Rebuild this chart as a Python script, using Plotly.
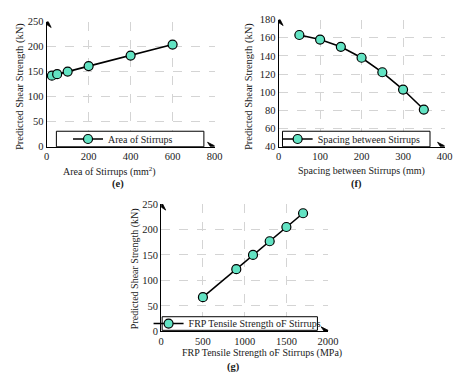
import plotly.graph_objects as go

# ---- data ----
area_x = [25, 50, 100, 200, 400, 600]
area_y = [142, 145, 150, 161, 182, 204]

spacing_x = [50, 100, 150, 200, 250, 300, 350]
spacing_y = [163, 158, 150, 138, 122, 103, 81]

frp_x = [500, 900, 1100, 1300, 1500, 1700]
frp_y = [67, 122, 150, 177, 205, 232]

W, H = 474, 381
FONT = "Liberation Serif"
MARK = "#62e3c3"
TXT = "#1a1a1a"

def px(x):
    return x / W

def py(y):
    return 1 - y / H

fig = go.Figure()

def add_series(xs, ys, name, xa, ya, leg):
    fig.add_trace(go.Scatter(
        x=xs, y=ys, name=name, mode="lines+markers",
        xaxis=xa, yaxis=ya, legend=leg,
        line=dict(color="black", width=1.6),
        marker=dict(symbol="circle", size=9, color=MARK,
                    line=dict(color="black", width=1.2)),
        showlegend=True,
    ))

add_series(area_x, area_y, "Area of Stirrups", "x", "y", "legend")
add_series(spacing_x, spacing_y, "Spacing between Stirrups", "x2", "y2", "legend2")
add_series(frp_x, frp_y, "FRP Tensile Strength oF Stirrups", "x3", "y3", "legend3")

axis_common = dict(
    showgrid=True, gridcolor="#d4d4d4", griddash="dash", gridwidth=1,
    showline=True, linecolor="black", linewidth=1.2,
    zeroline=False, ticks="", tickfont=dict(family=FONT, size=10.5, color=TXT),
    fixedrange=True,
)

dom = {
    "e": dict(x=(45, 218), y=(17, 146)),
    "f": dict(x=(284, 455), y=(15, 146)),
    "g": dict(x=(163, 335), y=(205, 336)),
}

def xdom(k):
    a, b = dom[k]["x"]
    return [px(a), px(b)]

def ydom(k):
    a, b = dom[k]["y"]
    return [py(b), py(a)]

fig.update_layout(
    xaxis=dict(axis_common, domain=xdom("e"), anchor="y", range=[0, 800], dtick=200),
    yaxis=dict(axis_common, domain=ydom("e"), anchor="x", range=[0, 250], dtick=50),
    xaxis2=dict(axis_common, domain=xdom("f"), anchor="y2", range=[0, 400], dtick=100),
    yaxis2=dict(axis_common, domain=ydom("f"), anchor="x2", range=[40, 180], dtick=20),
    xaxis3=dict(axis_common, domain=xdom("g"), anchor="y3", range=[0, 2000], dtick=500),
    yaxis3=dict(axis_common, domain=ydom("g"), anchor="x3", range=[0, 250], dtick=50),
)

titles = [
    ("Area of Stirrups (mm<sup>2</sup>)", 110, 171, 0, 10),
    ("Predicted Shear Strength (kN)", 17, 84, -90, 10.5),
    ("Spacing between Stirrups (mm)", 369, 171, 0, 10),
    ("Predicted Shear Strength (kN)", 253, 84, -90, 10.5),
    ("FRP Tensile Strength oF Stirrups (MPa)", 267, 358, 0, 10),
    ("Predicted Shear Strength (kN)", 136, 271, -90, 10),
]
for txt, x, y, ang, sz in titles:
    fig.add_annotation(xref="paper", yref="paper", x=px(x), y=py(y), text=txt, textangle=ang,
                       showarrow=False, font=dict(family=FONT, size=sz, color=TXT),
                       xanchor="center", yanchor="middle")

boxes = [(55, 207, 130, 146), (288, 440, 130, 146), (164, 324, 321, 335)]
for x0, x1, y0, y1 in boxes:
    fig.add_shape(type="rect", xref="paper", yref="paper",
                  x0=px(x0), x1=px(x1), y0=py(y1), y1=py(y0),
                  line=dict(color="black", width=1), fillcolor="white", layer="above")

leg_common = dict(bgcolor="rgba(0,0,0,0)", borderwidth=0,
                  font=dict(family=FONT, size=10, color=TXT),
                  xanchor="left", yanchor="middle", itemclick=False, itemdoubleclick=False,
                  tracegroupgap=0)
fig.update_layout(
    legend=dict(leg_common, x=px(67), y=py(138)),
    legend2=dict(leg_common, x=px(283), y=py(138)),
    legend3=dict(leg_common, x=px(150), y=py(328)),
)

ends = [("x", "y", 800, 0, 250), ("x2", "y2", 400, 40, 180), ("x3", "y3", 2000, 0, 250)]
for xa, ya, xmax, ymin, ymax in ends:
    fig.add_shape(type="path", xref=xa, yref=ya, xsizemode="pixel", ysizemode="pixel",
                  xanchor=xmax, yanchor=ymin,
                  path="M2,0 L-7,4.5 L-4,0 L-7,-4.5 Z",
                  fillcolor="black", line=dict(color="black", width=0.8), layer="above")
    fig.add_shape(type="path", xref=xa, yref=ya, xsizemode="pixel", ysizemode="pixel",
                  xanchor=0, yanchor=ymax,
                  path="M0,3 L4.5,-6 L0,-3 L-4.5,-6 Z",
                  fillcolor="black", line=dict(color="black", width=0.8), layer="above")

for txt, x, y in [("(e)", 118, 184), ("(f)", 364, 184), ("(g)", 237, 373)]:
    fig.add_annotation(xref="paper", yref="paper", x=px(x), y=py(y), text="<b>" + txt + "</b>",
                       showarrow=False, font=dict(family=FONT, size=10.5, color=TXT),
                       xanchor="center", yanchor="middle")

fig.update_layout(
    width=W, height=H, margin=dict(l=0, r=0, t=0, b=0),
    paper_bgcolor="white", plot_bgcolor="white",
    font=dict(family=FONT, size=10.5, color=TXT),
)

fig.write_html("out.html", config={"displayModeBar": False},
               post_script="document.body.style.margin='0';document.body.style.overflow='hidden';")
